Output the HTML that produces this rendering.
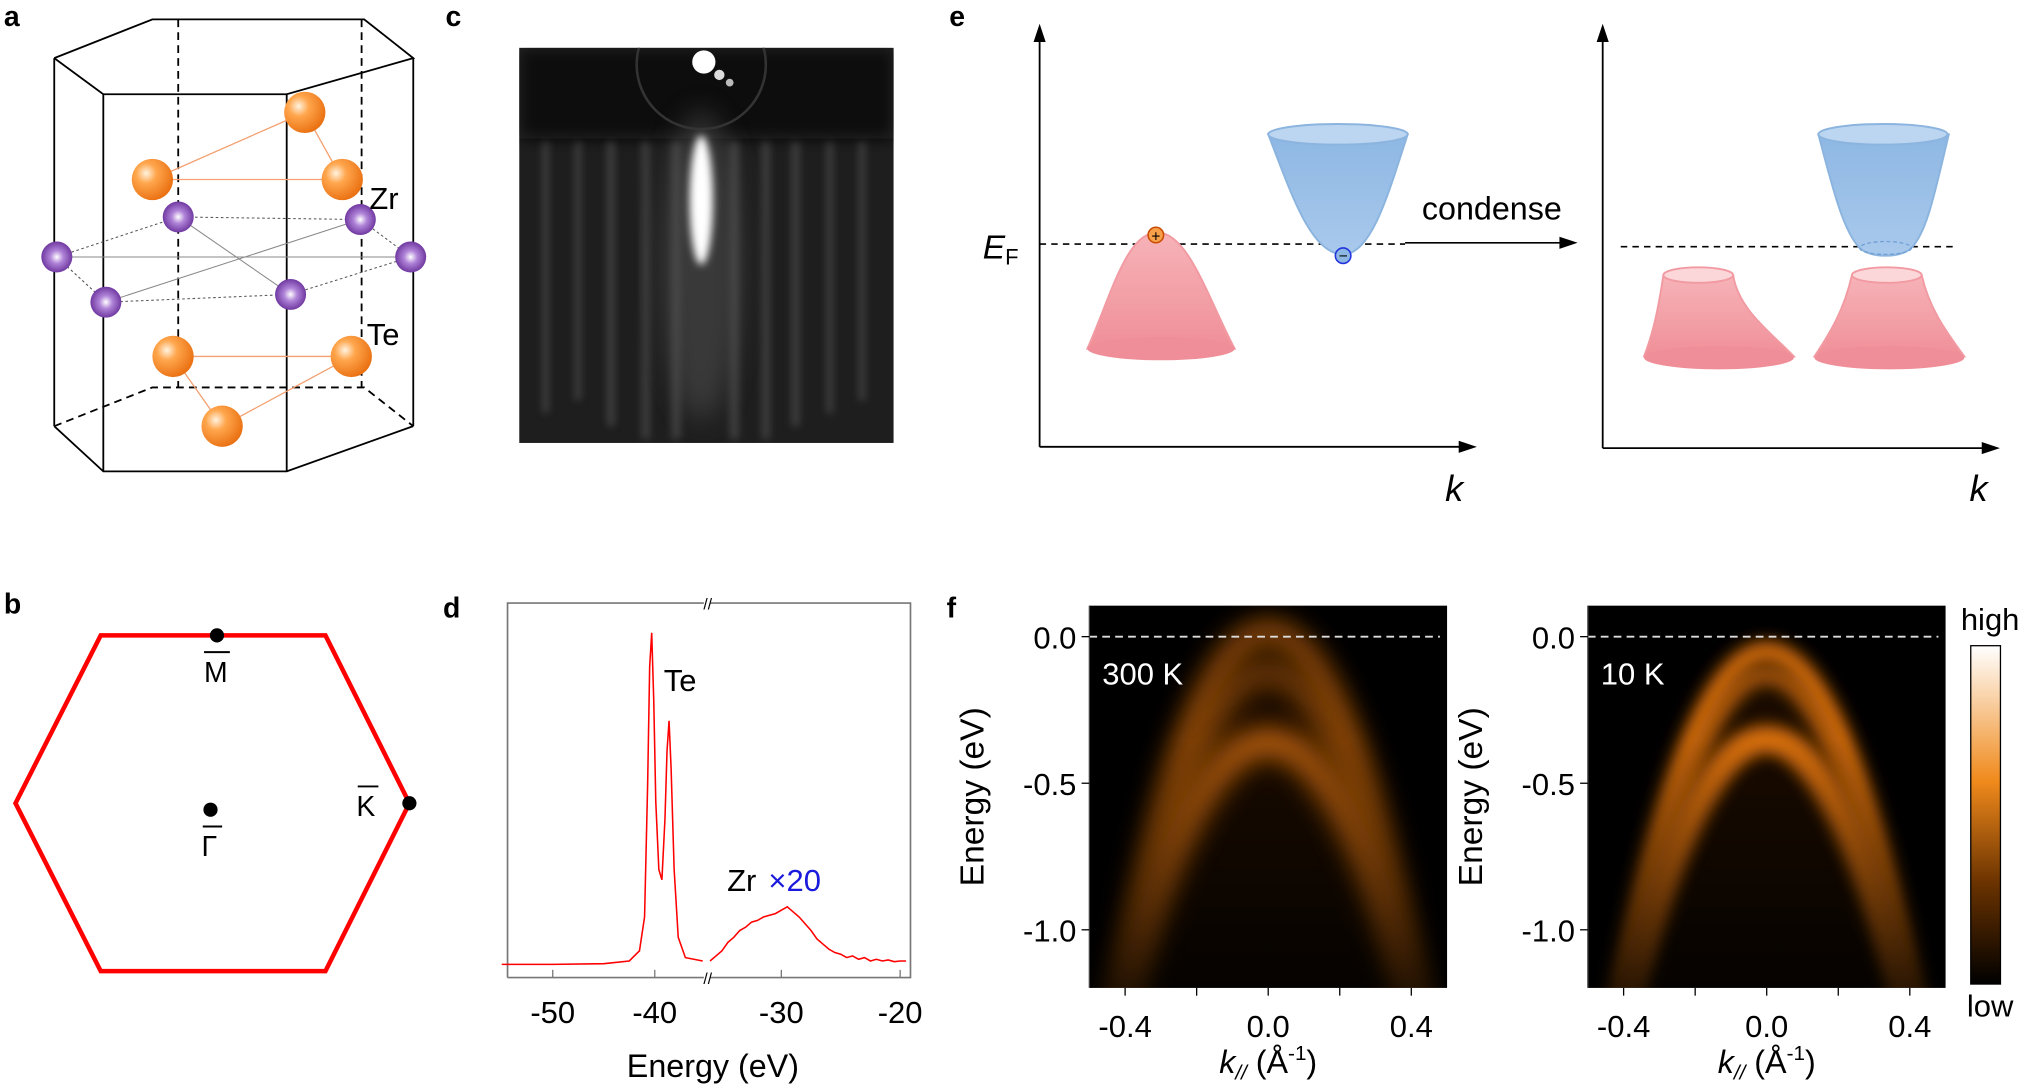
<!DOCTYPE html>
<html><head><meta charset="utf-8"><style>
html,body{margin:0;padding:0;background:#fff;overflow:hidden;width:2025px;height:1088px}
svg{display:block}
text{font-family:"Liberation Sans",Arial,sans-serif}
</style></head><body>
<svg id="fig" width="2025" height="1088" viewBox="0 0 1568 842.5" preserveAspectRatio="none" xmlns="http://www.w3.org/2000/svg">
<defs>
<radialGradient id="og" cx="0.35" cy="0.35" r="0.7"><stop offset="0" stop-color="#fff3e0"/><stop offset="0.35" stop-color="#ffa64d"/><stop offset="1" stop-color="#e96f10"/></radialGradient>
<radialGradient id="pg" cx="0.5" cy="0.5" r="0.6"><stop offset="0" stop-color="#fff"/><stop offset="0.35" stop-color="#b084d8"/><stop offset="1" stop-color="#5a1f8e"/></radialGradient>
<linearGradient id="redcone" x1="0" y1="0" x2="0" y2="1"><stop offset="0" stop-color="#f6b3b8"/><stop offset="1" stop-color="#f08f98"/></linearGradient>
<linearGradient id="bluecone" x1="0" y1="0" x2="0" y2="1"><stop offset="0" stop-color="#8db7e3"/><stop offset="1" stop-color="#a9c9ec"/></linearGradient>
<linearGradient id="cbar" x1="0" y1="1" x2="0" y2="0"><stop offset="0" stop-color="#000"/><stop offset="0.3" stop-color="#6b3300"/><stop offset="0.6" stop-color="#f08a1c"/><stop offset="1" stop-color="#fff"/></linearGradient>
<linearGradient id="fadeG" x1="0" y1="0" x2="0" y2="1"><stop offset="0" stop-color="#fff"/><stop offset="0.35" stop-color="#fff"/><stop offset="1" stop-color="#333"/></linearGradient>
<mask id="fadeL" maskUnits="userSpaceOnUse" x="843" y="469" width="275" height="296"><rect x="843" y="469" width="275" height="296" fill="url(#fadeG)"/></mask>
<mask id="fadeR" maskUnits="userSpaceOnUse" x="1231" y="469" width="277" height="296"><rect x="1231" y="469" width="277" height="296" fill="url(#fadeG)"/></mask>
<filter id="blur10" x="-50%" y="-50%" width="200%" height="200%"><feGaussianBlur stdDeviation="10"/></filter>
<filter id="blur6" x="-50%" y="-50%" width="200%" height="200%"><feGaussianBlur stdDeviation="6"/></filter>
<filter id="blur3" x="-50%" y="-50%" width="200%" height="200%"><feGaussianBlur stdDeviation="3"/></filter>
<filter id="blur20" x="-50%" y="-50%" width="200%" height="200%"><feGaussianBlur stdDeviation="18"/></filter>
<clipPath id="clipL"><rect x="843" y="469" width="275" height="296"/></clipPath>
<clipPath id="clipR"><rect x="1231" y="469" width="277" height="296"/></clipPath>
<clipPath id="clipC"><rect x="402" y="37" width="290" height="306"/></clipPath>
</defs>

<g font-weight="bold" font-size="22">
<text x="3" y="20">a</text>
<text x="3" y="475">b</text>
<text x="345" y="20">c</text>
<text x="343" y="478">d</text>
<text x="735" y="20">e</text>
<text x="733" y="478">f</text>
</g>

<g stroke="#000" stroke-width="1.4" fill="none">
<polyline points="42,45 118,15 282,15 320,45 222,73 80,73 42,45"/>
<line x1="42" y1="45" x2="42" y2="330"/><line x1="80" y1="73" x2="80" y2="365"/>
<line x1="222" y1="73" x2="222" y2="365"/><line x1="320" y1="45" x2="320" y2="330"/>
<polyline points="42,330 80,365 222,365 320,330"/>
<line x1="138" y1="15" x2="138" y2="300" stroke-dasharray="6,4"/>
<line x1="280" y1="15" x2="280" y2="300" stroke-dasharray="6,4"/>
<polyline points="42,330 118,300 282,300 320,330" stroke-dasharray="6,4"/>
<g stroke="#f4a070" stroke-width="1"><polyline points="236,87 118,139 265,139 236,87"/><polyline points="134,276 272,276 172,330 134,276"/></g>
<g stroke="#555" stroke-width="0.8" stroke-dasharray="2,2"><polyline points="44,199 138,168 279,170 318,199 225,228 82,234 44,199"/></g>
<g stroke="#888" stroke-width="0.8"><line x1="82" y1="234" x2="279" y2="170"/><line x1="138" y1="168" x2="225" y2="228"/><line x1="44" y1="199" x2="318" y2="199"/></g>
</g>
<g>
<circle cx="236" cy="87" r="16" fill="url(#og)"/><circle cx="118" cy="139" r="16" fill="url(#og)"/><circle cx="265" cy="139" r="16" fill="url(#og)"/>
<circle cx="134" cy="276" r="16" fill="url(#og)"/><circle cx="272" cy="276" r="16" fill="url(#og)"/><circle cx="172" cy="330" r="16" fill="url(#og)"/>
<circle cx="44" cy="199" r="12" fill="url(#pg)"/><circle cx="138" cy="168" r="12" fill="url(#pg)"/><circle cx="279" cy="170" r="12" fill="url(#pg)"/>
<circle cx="318" cy="199" r="12" fill="url(#pg)"/><circle cx="82" cy="234" r="12" fill="url(#pg)"/><circle cx="225" cy="228" r="12" fill="url(#pg)"/>
</g>
<text x="286" y="162" font-size="24">Zr</text>
<text x="284" y="267" font-size="24">Te</text>

<g>
<polygon points="12,622 78,492 252,492 317,622 252,752 78,752" fill="none" stroke="#f00" stroke-width="3.5"/>
<circle cx="168" cy="492" r="5.5" fill="#000"/><circle cx="163" cy="627" r="5.5" fill="#000"/><circle cx="317" cy="622" r="5.5" fill="#000"/>
<text x="158" y="528" font-size="22" font-family="Liberation Serif">M</text><line x1="158" y1="505" x2="178" y2="505" stroke="#000" stroke-width="1.5"/>
<text x="156" y="663" font-size="22" font-family="Liberation Serif">Γ</text><line x1="157" y1="640" x2="172" y2="640" stroke="#000" stroke-width="1.5"/>
<text x="276" y="632" font-size="22" font-family="Liberation Serif">K</text><line x1="277" y1="609" x2="293" y2="609" stroke="#000" stroke-width="1.5"/>
</g>

<g clip-path="url(#clipC)">
<rect x="402" y="37" width="290" height="306" fill="#1e1e1e"/>
<rect x="402" y="37" width="290" height="70" fill="#111" filter="url(#blur6)"/>
<g fill="#6a6a6a" opacity="0.45" filter="url(#blur3)">
<rect x="420" y="110" width="5" height="210"/><rect x="445" y="110" width="5" height="200"/><rect x="470" y="110" width="6" height="220"/>
<rect x="497" y="110" width="6" height="230"/><rect x="520" y="110" width="7" height="230"/><rect x="565" y="110" width="7" height="230"/>
<rect x="590" y="110" width="6" height="230"/><rect x="613" y="110" width="6" height="220"/><rect x="640" y="110" width="5" height="210"/><rect x="665" y="110" width="5" height="200"/>
</g>
<ellipse cx="543" cy="205" rx="30" ry="120" fill="#555" opacity="0.5" filter="url(#blur10)"/>
<circle cx="543" cy="50" r="50" fill="none" stroke="#333" stroke-width="2"/>
<ellipse cx="543" cy="155" rx="9" ry="50" fill="#fff" filter="url(#blur3)"/>
<circle cx="545" cy="48" r="9" fill="#fff"/><circle cx="557" cy="58" r="4" fill="#ddd"/><circle cx="565" cy="64" r="3" fill="#bbb"/>
</g>

<g id="specPanel">
<polyline points="393,757 393,467 545,467" fill="none" stroke="#777" stroke-width="1.3"/>
<polyline points="550,467 705,467 705,757 550,757" fill="none" stroke="#777" stroke-width="1.3"/>
<line x1="393" y1="757" x2="545" y2="757" stroke="#777" stroke-width="1.3"/>
<text x="548" y="472" font-size="12" text-anchor="middle">//</text>
<text x="548" y="762" font-size="12" text-anchor="middle">//</text>
<g id="specTicks"></g>
<g id="specLines"></g>
<text x="514" y="535" font-size="24">Te</text>
<text x="563" y="690" font-size="24">Zr</text>
<text x="595" y="690" font-size="24" fill="#1a1adc">×20</text>
<text x="552" y="834" font-size="25" text-anchor="middle">Energy (eV)</text>
</g>

<g stroke="#000" fill="none">
<line x1="805" y1="346" x2="805" y2="24" stroke-width="1.4"/><polygon points="805,20 801,32 809,32" fill="#000"/>
<line x1="805" y1="346" x2="1136" y2="346" stroke-width="1.4"/><polygon points="1142,346 1130,342 1130,350" fill="#000"/>
<line x1="1241" y1="347" x2="1241" y2="24" stroke-width="1.4"/><polygon points="1241,20 1237,32 1245,32" fill="#000"/>
<line x1="1241" y1="347" x2="1541" y2="347" stroke-width="1.4"/><polygon points="1547,347 1535,343 1535,351" fill="#000"/>
<line x1="805" y1="189" x2="1088" y2="189" stroke-dasharray="5,4" stroke-width="1.3"/>
<line x1="1255" y1="191" x2="1515" y2="191" stroke-dasharray="5,4" stroke-width="1.3"/>
<line x1="1088" y1="188" x2="1212" y2="188" stroke-width="1.3"/><polygon points="1220,188 1208,184 1208,192" fill="#000"/>
</g>
<g>
<path d="M842,270 C860,230 872,180 896,180 C920,180 935,230 956,270 Z" fill="url(#redcone)" stroke="#f29aa2" stroke-width="1.5"/>
<ellipse cx="899" cy="270" rx="57" ry="9" fill="#ef8e98"/>
<path d="M982,104 C1000,150 1015,197 1040,197 C1062,197 1075,150 1090,104 Z" fill="url(#bluecone)" stroke="#8bb4df" stroke-width="1.5"/>
<ellipse cx="1036" cy="104" rx="54" ry="8" fill="#bcd5f0" stroke="#8bb4df" stroke-width="1.5"/>
<circle cx="895" cy="182" r="6" fill="#f7a04a" stroke="#c94c00" stroke-width="1.2"/><text x="895" y="187" font-size="12" text-anchor="middle">+</text>
<circle cx="1040" cy="198" r="6" fill="#8db7e3" stroke="#2233dd" stroke-width="1.2"/><text x="1040" y="202" font-size="12" text-anchor="middle">−</text>
<path d="M1288,213 C1284,240 1280,258 1273,276 L1389,276 C1372,258 1346,240 1342,213 Z" fill="url(#redcone)" stroke="#f29aa2" stroke-width="1.5"/>
<ellipse cx="1331" cy="277" rx="58" ry="9" fill="#ef8e98"/><ellipse cx="1315" cy="213" rx="27" ry="6" fill="#fbd7da" stroke="#f29aa2" stroke-width="1.5"/>
<path d="M1434,213 C1428,240 1417,258 1405,276 L1521,276 C1508,258 1494,240 1488,213 Z" fill="url(#redcone)" stroke="#f29aa2" stroke-width="1.5"/>
<ellipse cx="1463" cy="277" rx="58" ry="9" fill="#ef8e98"/><ellipse cx="1461" cy="213" rx="27" ry="6" fill="#fbd7da" stroke="#f29aa2" stroke-width="1.5"/>
<path d="M1408,104 C1420,150 1428,180 1440,192 C1448,200 1472,200 1480,192 C1492,180 1498,150 1509,104 Z" fill="url(#bluecone)" stroke="#8bb4df" stroke-width="1.5"/>
<ellipse cx="1458" cy="104" rx="50" ry="8" fill="#bcd5f0" stroke="#8bb4df" stroke-width="1.5"/>
<ellipse cx="1460" cy="192" rx="20" ry="5" fill="none" stroke="#6f9fd4" stroke-dasharray="3,2"/>
</g>
<text x="761" y="200" font-size="26" font-style="italic">E<tspan font-size="17" font-style="normal" dy="5">F</tspan></text>
<text x="1101" y="170" font-size="25">condense</text>
<text x="1119" y="388" font-size="28" font-style="italic">k</text>
<text x="1525" y="388" font-size="28" font-style="italic">k</text>

<g id="arpesL"></g>
<g id="arpesR"></g>
<g>
<rect x="1526" y="500" width="23" height="262" fill="url(#cbar)" stroke="#000" stroke-width="1"/>
<text x="1541" y="488" font-size="24" text-anchor="middle">high</text>
<text x="1541" y="787" font-size="24" text-anchor="middle">low</text>
</g>
</svg>
<script>
const NS='http://www.w3.org/2000/svg';
// ---- panel d data ----
const teE=[-55,-50,-45,-42.5,-41.5,-41,-40.7,-40.5,-40.3,-40.1,-39.9,-39.6,-39.3,-39.0,-38.8,-38.6,-38.4,-38.1,-37.7,-37,-35.3];
const teI=[0.02,0.02,0.022,0.03,0.06,0.16,0.55,0.9,1.0,0.8,0.5,0.3,0.27,0.45,0.65,0.74,0.6,0.3,0.1,0.04,0.03];
const zrE=[-36,-35.5,-35,-34.5,-34,-33.5,-33,-32.5,-32,-31.5,-31,-30.5,-30,-29.5,-29,-28.5,-28,-27.5,-27,-26.5,-26,-25.5,-25,-24.5,-24,-23.5,-23,-22.5,-22,-21.5,-21,-20.5,-20,-19.5];
const zrI=[0.03,0.045,0.06,0.085,0.1,0.12,0.13,0.145,0.15,0.16,0.165,0.17,0.18,0.19,0.175,0.16,0.14,0.12,0.095,0.08,0.065,0.055,0.05,0.04,0.045,0.035,0.04,0.03,0.035,0.03,0.033,0.028,0.03,0.03];
const specTickVals=[-50,-40,-30,-20];
function xdR(e){return 605+(e+30)*9.2;}
function xdL(e){return 428+(e+50)*7.9;}
function yd(i){return 752-i*262;}
function mk(tag,attrs,parent){const el=document.createElementNS(NS,tag);for(const k in attrs)el.setAttribute(k,attrs[k]);parent.appendChild(el);return el;}
const st=document.getElementById('specTicks');
specTickVals.forEach(v=>{
  const x=v<=-36?xdL(v):xdR(v);
  mk('line',{x1:x,y1:757,x2:x,y2:751,stroke:'#777'},st);
  const t=mk('text',{x:x,y:792,'font-size':24,'text-anchor':'middle'},st);
  t.textContent=v;
  
  
});
const sl=document.getElementById('specLines');
const p1=mk('polyline',{points:teE.map((e,i)=>xdL(e)+','+yd(teI[i])).join(' '),fill:'none',stroke:'#f00','stroke-width':1.2},sl);


const p2=mk('polyline',{points:zrE.map((e,i)=>xdR(e)+','+yd(zrI[i])).join(' '),fill:'none',stroke:'#f00','stroke-width':1.2},sl);



// ---- panel f data ----
const bandTop300=[0.02,-0.12,-0.36];
const bandCurv300=[7.0,7.2,5.5];
const bandAlpha300=[0.7,0.5,0.8];
const bandTop10=[-0.05,-0.13,-0.35];
const bandCurv10=[6.8,7.4,6.0];
const bandAlpha10=[0.9,0.65,0.95];
const kTicks=[-0.4,-0.2,0,0.2,0.4];
const kLabels=['-0.4','0.0','0.4'];
const eTicks=[0,-0.5,-1.0];
const eLabels=['0.0','-0.5','-1.0'];

function drawArpes(gid,x0,clip,mask,tops,curvs,alphas,blur,temp){
  const g=document.getElementById(gid);
  const xk=k=>x0+k*277;
  const yE=E=>493-E*227;
  mk('rect',{x:xk(-0.5),y:469,width:277,height:296,fill:'#000'},g);
  const inner=mk('g',{'clip-path':'url(#'+clip+')'},g);
  const inner2=mk('g',{mask:'url(#'+mask+')'},inner);
  const ks=[];for(let k=-0.55;k<=0.551;k+=0.025)ks.push(k);
  const fillPts=ks.map(k=>xk(k)+','+yE(tops[0]-curvs[0]*k*k)).join(' ');
  mk('polygon',{points:fillPts,fill:'#4a2200',opacity:0.35,filter:'url(#blur20)'},inner2);
  tops.forEach((t,i)=>{
    const pts=ks.map(k=>xk(k)+','+yE(t-curvs[i]*k*k)).join(' ');
    const pl=mk('polyline',{points:pts,fill:'none',stroke:'#e07308','stroke-width':i==2?22:16,opacity:alphas[i],filter:'url('+blur+')','stroke-linecap':'round'},inner2);
    
    
  });
  mk('line',{x1:xk(-0.5),y1:yE(0),x2:xk(0.48),y2:yE(0),stroke:'#ddd','stroke-width':1.5,'stroke-dasharray':'6,4'},g);
  mk('line',{x1:xk(-0.5),y1:469,x2:xk(-0.5),y2:765,stroke:'#444'},g);
  kTicks.forEach(k=>mk('line',{x1:xk(k),y1:765,x2:xk(k),y2:771,stroke:'#000'},g));
  eTicks.forEach(E=>mk('line',{x1:xk(-0.5)-6,y1:yE(E),x2:xk(-0.5),y2:yE(E),stroke:'#000'},g));
  [-0.4,0,0.4].forEach((k,i)=>{const t=mk('text',{x:xk(k),y:803,'font-size':24,'text-anchor':'middle'},g);t.textContent=kLabels[i];
    
    });
  eTicks.forEach((E,i)=>{const t=mk('text',{x:xk(-0.5)-10,y:yE(E)+9,'font-size':24,'text-anchor':'end'},g);t.textContent=eLabels[i];
    
    });
  const tt=mk('text',{x:xk(-0.5)+10,y:530,'font-size':24,fill:'#fff'},g);tt.textContent=temp;
  
  
  const yt=mk('text',{x:0,y:0,'font-size':26,'text-anchor':'middle',transform:'translate('+(xk(-0.5)-82)+',617) rotate(-90)'},g);yt.textContent='Energy (eV)';
  
  
  const xt=mk('text',{x:xk(0),y:831,'font-size':25,'text-anchor':'middle'},g);
  xt.innerHTML='<tspan font-style="italic">k</tspan><tspan font-size="16" font-style="italic" dy="5">//</tspan><tspan dy="-5"> (Å</tspan><tspan font-size="16" dy="-10">-1</tspan><tspan dy="10">)</tspan>';
  
  
}
drawArpes('arpesL',982,'clipL','fadeL',bandTop300,bandCurv300,bandAlpha300,'#blur10','300 K');
drawArpes('arpesR',1368,'clipR','fadeR',bandTop10,bandCurv10,bandAlpha10,'#blur6','10 K');
</script>
</body></html>
